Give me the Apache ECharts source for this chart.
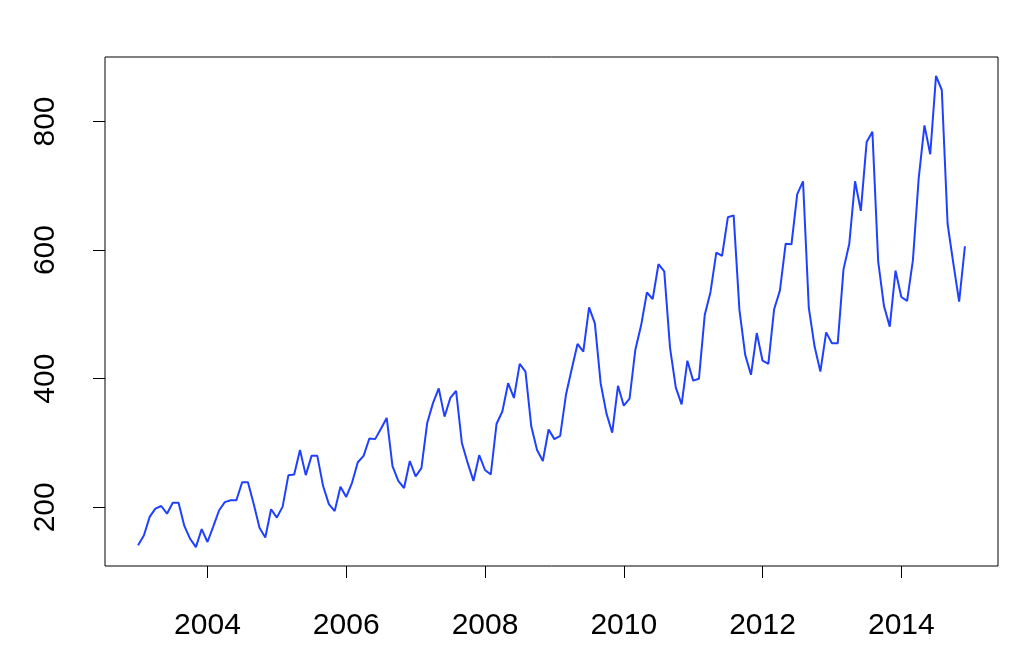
<!DOCTYPE html>
<html>
<head>
<meta charset="utf-8">
<script src="https://cdn.jsdelivr.net/npm/echarts@6/dist/echarts.min.js"></script>
<style>
html,body{margin:0;padding:0;background:#fff;}
#chart{width:1024px;height:655px;}
</style>
</head>
<body>
<div id="chart"></div>
<script>
const startYear = 2003;
const y2003 = [141, 156, 185, 198, 202, 190, 207, 207, 171, 151, 138, 166];
const y2004 = [146, 170, 195, 208, 211, 211, 239, 239, 205, 168, 153, 197];
const y2005 = [184, 201, 250, 251, 289, 250, 280, 280, 233, 205, 194, 232];
const y2006 = [216, 238, 270, 280, 307, 306, 322, 339, 264, 241, 230, 272];
const y2007 = [248, 261, 331, 362, 385, 341, 370, 381, 300, 269, 241, 281];
const y2008 = [258, 251, 330, 349, 393, 370, 423, 411, 326, 289, 272, 321];
const y2009 = [306, 311, 375, 415, 454, 442, 511, 486, 393, 346, 316, 389];
const y2010 = [358, 369, 445, 483, 534, 524, 578, 567, 448, 386, 360, 428];
const y2011 = [397, 400, 499, 535, 596, 591, 651, 654, 507, 437, 406, 471];
const y2012 = [428, 423, 508, 537, 610, 609, 687, 707, 510, 450, 411, 472];
const y2013 = [455, 455, 570, 610, 707, 661, 768, 784, 582, 513, 481, 568];
const y2014 = [527, 521, 584, 711, 794, 749, 871, 849, 641, 579, 520, 606];
const xTicks = [2004, 2006, 2008, 2010, 2012, 2014];
const yTicks = [200, 400, 600, 800];

const years = [y2003, y2004, y2005, y2006, y2007, y2008, y2009, y2010, y2011, y2012, y2013, y2014];
const points = [];
years.forEach((arr, yi) => {
  arr.forEach((v, m) => points.push([startYear + yi + m / 12, v]));
});

const xs = points.map(p => p[0]);
const vs = points.map(p => p[1]);
const xPad = (Math.max(...xs) - Math.min(...xs)) * 0.04;
const yPad = (Math.max(...vs) - Math.min(...vs)) * 0.04;

const font = 'Liberation Sans, Arial, Helvetica, sans-serif';
const chart = echarts.init(document.getElementById('chart'), null, {renderer: 'canvas'});
chart.setOption({
  animation: false,
  backgroundColor: '#fff',
  grid: {left: 105, right: 26, top: 57, bottom: 89, show: true, borderColor: '#000', borderWidth: 1, backgroundColor: 'transparent'},
  xAxis: {
    type: 'value',
    min: Math.min(...xs) - xPad,
    max: Math.max(...xs) + xPad,
    axisLine: {show: false},
    splitLine: {show: false},
    axisTick: {show: true, customValues: xTicks, length: 12, lineStyle: {color: '#000', width: 1}},
    axisLabel: {customValues: xTicks, fontSize: 30, color: '#000', fontFamily: font, margin: 45,
      formatter: v => String(Math.round(v))}
  },
  yAxis: {
    type: 'value',
    min: Math.min(...vs) - yPad,
    max: Math.max(...vs) + yPad,
    axisLine: {show: false},
    splitLine: {show: false},
    axisTick: {show: true, customValues: yTicks, length: 12, lineStyle: {color: '#000', width: 1}},
    axisLabel: {customValues: yTicks, fontSize: 30, color: '#000', fontFamily: font, margin: 44, rotate: 90,
      formatter: v => String(Math.round(v))}
  },
  series: [{
    type: 'line',
    data: points,
    showSymbol: false,
    lineStyle: {color: '#2040ff', width: 2},
    itemStyle: {color: '#2040ff'}
  }]
});
</script>
</body>
</html>
